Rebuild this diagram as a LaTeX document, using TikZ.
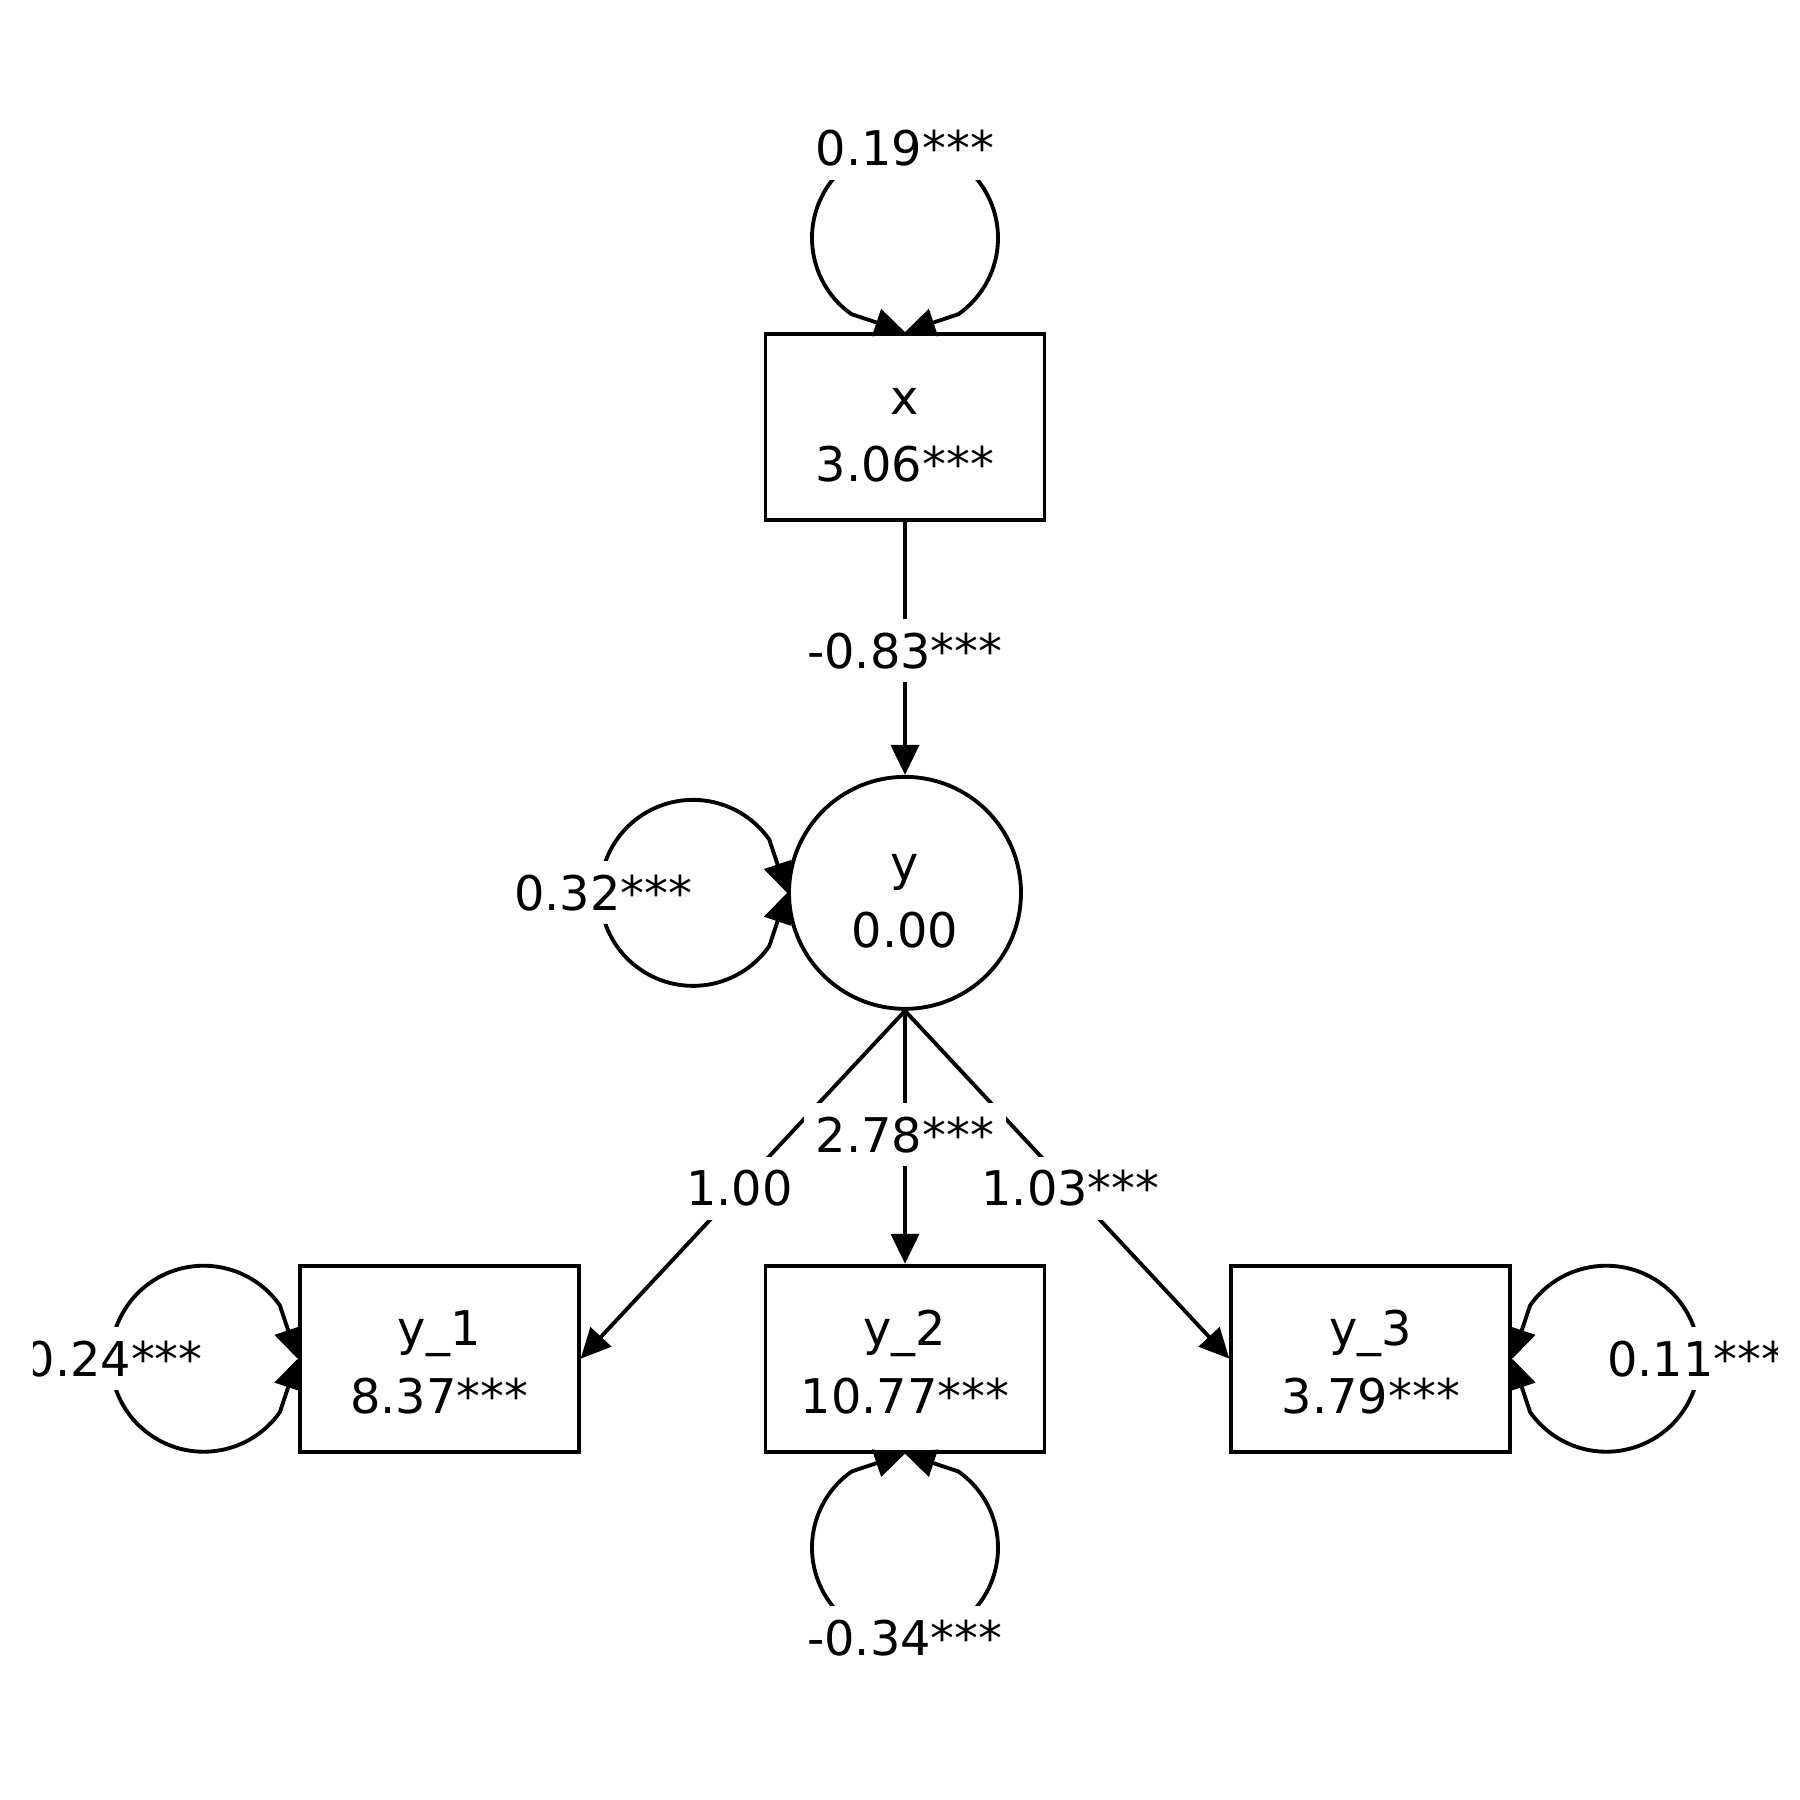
\documentclass[tikz,border=0pt]{standalone}
\usepackage{fontspec}
\setmainfont{DejaVu Sans}
\usetikzlibrary{arrows.meta,calc,positioning}

\begin{document}
\begin{tikzpicture}[
      font=\fontsize{13.6}{19.3}\selectfont,
      line width=1.1pt,
      obs/.style={draw,rectangle,minimum width=2.79cm,minimum height=1.86cm,align=center,text height=31.3pt,text depth=0pt},
      lat/.style={draw,circle,minimum size=2.32cm,align=center,text height=31.3pt,text depth=0pt},
      lab/.style={fill=white,inner xsep=0.12cm,inner ysep=0.14cm,text height=0.35cm,text depth=0pt},
      reg/.style={-{Triangle[length=0.3cm,width=0.28cm]}},
      var/.style={{Triangle[length=0.3cm,width=0.28cm]}-{Triangle[length=0.3cm,width=0.28cm]}}
    ]
      \useasboundingbox (0,0) rectangle (18,18);
      \begin{scope}
      \clip (0.34,0) rectangle (17.77,18);
      % measurement model
      \node[obs] (x) at (9.05,13.73) {x\\3.06***};
      \node[lat,below=2.53cm of x] (y) {y\\0.00};
      \node[obs,below=2.53cm of y] (y2) {y\_2\\10.77***};
      \node[obs,left=1.83cm of y2] (y1) {y\_1\\8.37***};
      \node[obs,right=1.83cm of y2] (y3) {y\_3\\3.79***};

      % paths
      \draw[reg] (x.south) -- node[lab,pos=0.51] {-0.83***} (y.north);
      \draw[reg] (y.south) -- node[lab,pos=0.51] {1.00} (y1.east);
      \draw[reg] (y.south) -- node[lab,pos=0.51] {1.03***} (y3.west);
      \draw[reg] (y.south) -- node[lab,pos=0.49] {2.78***} (y2.north);

      % variances
      \foreach \n/\a/\v in {x/90/0.19***, y/180/0.32***, y1/180/0.24***, y2/270/-0.34***, y3/0/0.11***} {
        \coordinate (c) at ($(\n.\a)+(\a:0.94)$);
        \draw[var] (\n.\a) -- ($(c)+(\a+145:0.93)$) arc[start angle=\a+145, end angle=\a-145, radius=0.93] -- (\n.\a);
        \node[lab] at ($(c)+(\a:0.90)$) {\v};
      }
      \end{scope}
    \end{tikzpicture}
\end{document}
